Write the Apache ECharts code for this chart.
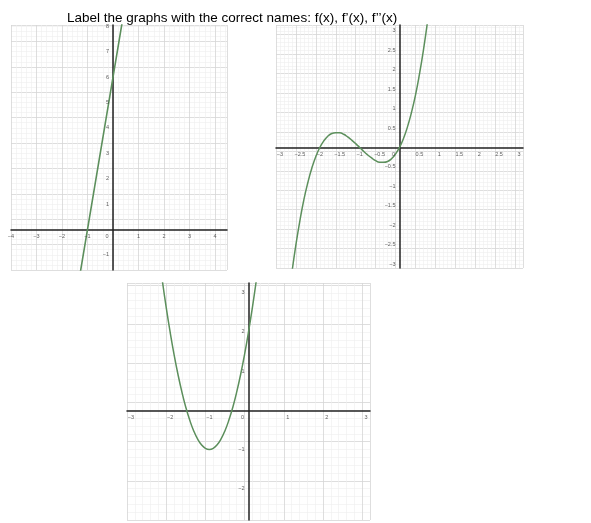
<!DOCTYPE html><html><head><meta charset="utf-8">
<script src="https://cdn.jsdelivr.net/npm/echarts@6/dist/echarts.min.js"></script>
<style>body{margin:0;background:#fff}#c{width:591px;height:523px}</style></head><body><div id="c"></div>
<script>
const titleText = 'Label the graphs with the correct names: f(x), f’(x), f’’(x)';
// graph 1 (line) points
const line1 = [[-1.3,-1.8],[-1,0],[0,6],[0.4,8.4]];
const xTicks1 = [-4,-3,-2,-1,0,1,2,3,4];
const yTicks1 = [-1,1,2,3,4,5,6,7,8];
// graph 2 (cubic) points
const cubic2 = [[-2.7,-3.21],[-2.6,-2.5],[-2.5,-1.88],[-2.4,-1.34],[-2.3,-0.9],[-2.2,-0.53],[-2.1,-0.23],[-2,0],[-1.9,0.17],[-1.8,0.29],[-1.7,0.36],[-1.6,0.38],[-1.5,0.38],[-1.4,0.34],[-1.3,0.27],[-1.2,0.19],[-1.1,0.1],[-1,0],[-0.9,-0.1],[-0.8,-0.19],[-0.7,-0.27],[-0.6,-0.34],[-0.5,-0.38],[-0.4,-0.38],[-0.3,-0.36],[-0.2,-0.29],[-0.1,-0.17],[0,0],[0.1,0.23],[0.2,0.53],[0.3,0.9],[0.4,1.34],[0.5,1.88],[0.6,2.5],[0.7,3.21]];
const xTicks2 = [-3,-2.5,-2,-1.5,-1,-0.5,0,0.5,1,1.5,2,2.5,3];
const yTicks2 = [-3,-2.5,-2,-1.5,-1,-0.5,0.5,1,1.5,2,2.5,3];
// graph 3 (parabola) points
const parab3 = [[-2.2,3.32],[-2.1,2.63],[-2,2],[-1.9,1.43],[-1.8,0.92],[-1.7,0.47],[-1.6,0.08],[-1.5,-0.25],[-1.4,-0.52],[-1.3,-0.73],[-1.2,-0.88],[-1.1,-0.97],[-1,-1],[-0.9,-0.97],[-0.8,-0.88],[-0.7,-0.73],[-0.6,-0.52],[-0.5,-0.25],[-0.4,0.08],[-0.3,0.47],[-0.2,0.92],[-0.1,1.43],[0,2],[0.1,2.63],[0.2,3.32]];
const xTicks3 = [-3,-2,-1,0,1,2,3];
const yTicks3 = [-2,-1,1,2,3];

const green = '#5c8f5c';
function axis(idx, min, max, interval){
  return {type:'value', gridIndex:idx, min, max, interval,
    axisLine:{onZero:true, lineStyle:{color:'#222', width:1.5}},
    axisTick:{show:false}, axisLabel:{show:false},
    splitLine:{show:true, lineStyle:{color:'#d6d6d6', width:0.8}},
    minorTick:{show:false, splitNumber:5},
    minorSplitLine:{show:true, lineStyle:{color:'#eeeeee', width:0.6}}
  };
}
const fmt = v => (Math.round(v*10)/10).toString().replace('-','−');
function labels(idx, ticks, isX){
  return {type:'scatter', xAxisIndex:idx, yAxisIndex:idx, symbolSize:0, silent:true, z:5,
    data: ticks.map(t => ({value: isX ? [t,0] : [0,t], label: (isX && t===0) ? {offset:[-6,0]} : {}})),
    label:{show:true, position: isX ? 'bottom' : 'left', distance: 4, fontSize:5.5, color:'#333',
      formatter: p => fmt(isX ? p.value[0] : p.value[1])}};
}
const opt = {
  animation:false,
  title:{text:titleText, left:62, top:6, textStyle:{fontSize:13.5, fontWeight:'normal', color:'#000', fontFamily:'Liberation Sans'}},
  grid:[
    {left:11, top:25, width:216, height:245},
    {left:276, top:25, width:247, height:243},
    {left:127, top:283, width:243, height:237}
  ],
  xAxis:[axis(0,-4,4.47,1), axis(1,-3.1,3.1,0.5), axis(2,-3.1,3.1,1)],
  yAxis:[axis(0,-1.6,8.05,1), axis(1,-3.1,3.15,0.5), axis(2,-2.8,3.25,1)],
  series:[
    {type:'line', xAxisIndex:0, yAxisIndex:0, data:line1, symbol:'none', lineStyle:{color:green, width:1.6}, clip:true},
    {type:'line', xAxisIndex:1, yAxisIndex:1, data:cubic2, smooth:true, symbol:'none', lineStyle:{color:green, width:1.5}, clip:true},
    {type:'line', xAxisIndex:2, yAxisIndex:2, data:parab3, smooth:true, symbol:'none', lineStyle:{color:green, width:1.5}, clip:true},
    labels(0,xTicks1,true), labels(0,yTicks1,false),
    labels(1,xTicks2,true), labels(1,yTicks2,false),
    labels(2,xTicks3,true), labels(2,yTicks3,false)
  ]
};
echarts.init(document.getElementById('c')).setOption(opt);
</script></body></html>
